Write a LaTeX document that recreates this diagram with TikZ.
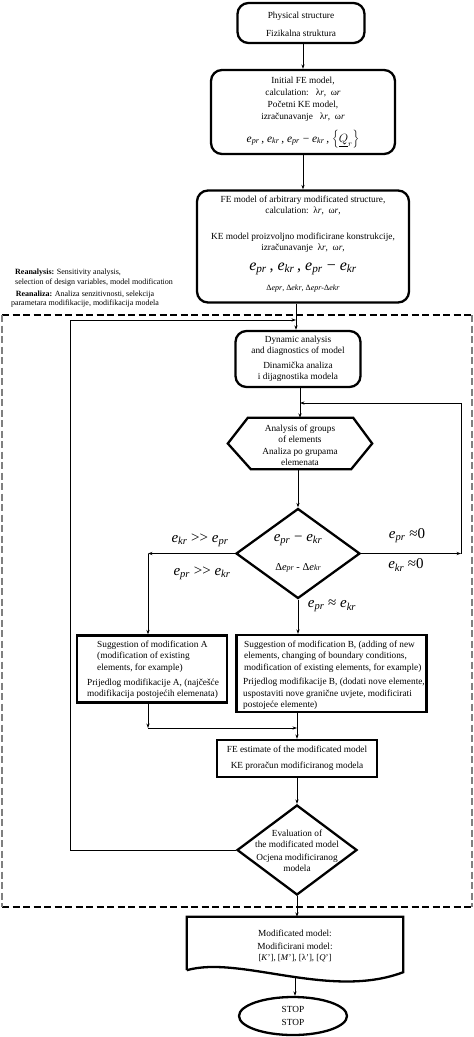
\documentclass[tikz,border=0pt]{standalone}
\usepackage{fontspec}
\setmainfont{Liberation Serif}
\usetikzlibrary{arrows.meta,shapes.geometric,calc}
\newcommand{\esub}[1]{\textit{e}\textsubscript{\textit{#1}}}
\newcommand{\gtgt}{\textgreater{}\textgreater{}}
\begin{document}
\begin{tikzpicture}[x=1pt,y=-1pt,
  rbox/.style={draw,line width=2.3pt,rounded corners=11pt,inner sep=0pt},
  sbox/.style={draw,line width=2.3pt,inner sep=0pt},
  diam/.style={draw,diamond,line width=2.3pt,inner sep=0pt},
  txt/.style={font=\fontsize{9.3}{11}\selectfont,align=center,inner sep=0pt},
  txtl/.style={font=\fontsize{9.3}{11.3}\selectfont,align=left,inner sep=0pt,anchor=west},
  rtxt/.style={font=\fontsize{8}{9.5}\selectfont,inner sep=0pt},
  lbl/.style={font=\fontsize{15}{15}\selectfont,inner sep=0pt},
  conn/.style={line width=0.7pt},
  arr/.style={conn,-{Stealth[length=4.5pt,width=3.2pt]}},
  dbox/.style={line width=1.3pt,dash pattern=on 7pt off 3.5pt}]
\useasboundingbox (0,0) rectangle (474,1037);

% ---- top part
\node[rbox,minimum width=127,minimum height=40] (phys) at (301,23) {};
\node[txt] (physT) at (301,24) {Physical structure\\[7pt]Fizikalna struktura};

\node[rbox,minimum width=184,minimum height=84] (init) at (303,112) {};
\node[txt,font=\fontsize{9.3}{12}\selectfont] (initT) at (303,99) {Initial FE model,\\calculation:\ \ \ λ\textit{r},\ \ ω\textit{r}\\Početni KE model,\\izračunavanje\ \ \ λ\textit{r},\ \ ω\textit{r}};
\node[inner sep=0pt,font=\fontsize{11.5}{12}\selectfont] (initF) at (303,139) {\esub{pr}\,, \esub{kr}\,, \esub{pr} − \esub{kr}\,, $\Bigl\{\underline{Q}_r\Bigr\}$};

\node[rbox,minimum width=212,minimum height=112] (fe) at (303,246.5) {};
\node[txt] (feT1) at (303,205.5) {FE model of arbitrary modificated structure,\\calculation:\ \ λ\textit{r},\ \ ω\textit{r},};
\node[txt] (feT2) at (303,243) {KE model proizvoljno modificirane konstrukcije,\\izračunavanje\ \ λ\textit{r},\ \ ω\textit{r},};
\node[inner sep=0pt,font=\fontsize{16}{16}\selectfont] (feF) at (303,269) {\esub{pr}\,, \esub{kr}\,, \esub{pr} − \esub{kr}};
\node[inner sep=0pt,font=\fontsize{8}{9}\selectfont] (feD) at (303,289) {Δ\textit{epr}, Δ\textit{ekr}, Δ\textit{epr}-Δ\textit{ekr}};

\node[rtxt,align=left,anchor=west] (rea1) at (15,277.5) {\textbf{Reanalysis:} Sensitivity analysis,\\selection of design variables, model modification};
\node[rtxt,align=center] (rea2) at (85,299) {\textbf{Reanaliza:} Analiza senzitivnosti, selekcija\\parametara modifikacije, modifikacija modela};

% ---- dashed region
\draw[dbox] (2,315) -- (472,315);
\draw[dbox] (2,907) -- (472,907);
\draw[dbox,gray] (2,315) -- (2,907);
\draw[dbox,gray] (472,315) -- (472,907);

% ---- inside
\node[rbox,minimum width=125,minimum height=56] (dyn) at (298,359) {};
\node[txt] (dynT1) at (298,345.5) {Dynamic analysis\\and diagnostics of model};
\node[txt] (dynT2) at (298,371.5) {Dinamička analiza\\i dijagnostika modela};

\node[inner sep=0pt,minimum width=144,minimum height=51] (hex) at (300,443.5) {};
\draw[line width=2.3pt,line join=miter] (hex.west) -- ($(hex.north west)+(20,0)$) -- ($(hex.north east)+(-19,0)$) -- (hex.east) -- ($(hex.south east)+(-21,0)$) -- ($(hex.south west)+(23,0)$) -- cycle;
\node[txt] (hexT1) at (300,433.5) {Analysis of groups\\of elements};
\node[txt] (hexT2) at (300,457) {Analiza po grupama\\elemenata};

\node[diam,minimum width=124,minimum height=90] (d1) at (298,553.5) {};
\node[inner sep=0pt,font=\fontsize{15}{15}\selectfont] (d1T1) at (298,540) {\esub{pr} − \esub{kr}};
\node[inner sep=0pt,font=\fontsize{10.5}{10}\selectfont] (d1T2) at (298,568) {Δ\textit{e}\raisebox{-0.5pt}{\fontsize{8}{8}\selectfont\textit{pr}} - Δ\textit{e}\raisebox{-0.5pt}{\fontsize{8}{8}\selectfont\textit{kr}}};

\node[lbl] (l1) at (200,540) {\esub{kr} \gtgt{} \esub{pr}};
\node[lbl] (l2) at (202,573) {\esub{pr} \gtgt{} \esub{kr}};
\node[lbl] (l3) at (407,536) {\esub{pr} ≈0};
\node[lbl] (l4) at (406,565) {\esub{kr} ≈0};
\node[lbl] (l5) at (332,606) {\esub{pr} ≈ \esub{kr}};

\node[sbox,minimum width=150,minimum height=67] (boxA) at (152,669) {};
\node[txtl] (tA1) at (97,656.5) {Suggestion of modification A\\(modification of existing\\elements, for example)};
\node[txtl] (tA2) at (87,688.5) {Prijedlog modifikacije A, (najčešće\\modifikacija postojećih elemenata)};

\node[sbox,minimum width=190,minimum height=77] (boxB) at (331.5,673.5) {};
\node[txtl] (tB1) at (244,656.5) {Suggestion of modification B, (adding of new\\elements, changing of boundary conditions,\\modification of existing elements, for example)};
\node[txtl] (tB2) at (243,694) {Prijedlog modifikacije B, (dodati nove elemente,\\uspostaviti nove granične uvjete, modificirati\\postojeće elemente)};

\node[sbox,minimum width=160,minimum height=37] (est) at (297,758.5) {};
\node[txt] (estT) at (297,758) {FE estimate of the modificated model\\[5pt]KE proračun modificiranog modela};

\node[diam,minimum width=120,minimum height=90] (eval) at (297,850) {};
\node[txt] (evT1) at (297,838.5) {Evaluation of\\the modificated model};
\node[txt] (evT2) at (297,863) {Ocjena modificiranog\\modela};

% ---- below
\node[inner sep=0pt,minimum width=216,minimum height=53] (mod) at (295,943.5) {};
\draw[line width=2.3pt,line join=miter] (mod.south west) -- (mod.north west) -- (mod.north east) -- ($(mod.south east)+(0,2)$) .. controls (330,1000) and (240,955) .. (mod.south west);
\node[txt] (modT1) at (295,933) {Modificated model:};
\node[txt] (modT2) at (295,946.5) {Modificirani model:};
\node[txt,font=\fontsize{8.8}{10}\selectfont] (modT3) at (295,958.5) {[\textit{K}'], [\textit{M}'], [λ'], [\textit{Q}']};
\coordinate (modW) at (295,976);

\node[draw,ellipse,line width=2.3pt,minimum width=108,minimum height=38,inner sep=0pt] (stop) at (293,1016) {};
\node[txt] (stopT) at (293,1016) {STOP\\[2pt]STOP};

% ---- connectors
\coordinate (topJ) at (296,320);
\coordinate (fbL) at (70,320);
\coordinate (cL) at (148,553.5);
\coordinate (cR) at (461,553.5);
\coordinate (fbR) at (461,403);
\coordinate (cA) at (148,728);

\draw[arr] (phys.south -| init.north) -- (init.north);
\draw[arr] (init.south) -- (fe.north);
\draw[arr] (fe.south -| topJ) -- (dyn.north -| topJ);
\draw[arr] (dyn.south -| hex.north) -- (hex.north);
\draw[arr] (hex.south -| d1.north) -- (d1.north);
\draw[arr] (d1.west) -- (cL);
\draw[arr] (cL) -- (cL |- boxA.north);
\draw[arr] (d1.east) -- (cR);
\draw[arr] (cR) -- (fbR) -- (fbR -| hex.north);
\draw[arr] (d1.south) -- (d1.south |- boxB.north);
\draw[arr] (cA |- boxA.south) -- (cA);
\draw[arr] (cA) -- (cA -| est.north);
\draw[arr] (boxB.south -| est.north) -- (est.north);
\draw[arr] (est.south) -- (eval.north);
\draw[arr] (eval.west) -| (fbL) -- (topJ);
\draw[arr] (eval.south) -- (eval.south |- mod.north);
\draw[arr] (modW) -- (modW |- stop.north);
\end{tikzpicture}
\end{document}
